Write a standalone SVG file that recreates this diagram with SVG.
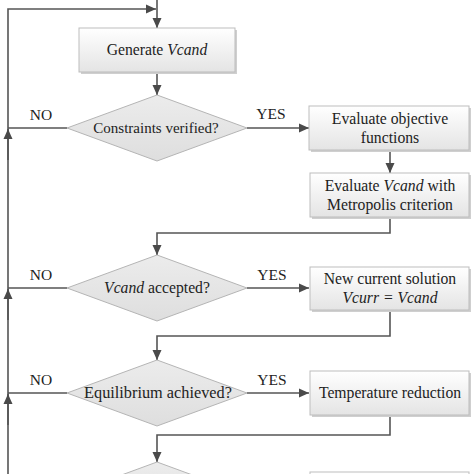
<svg xmlns="http://www.w3.org/2000/svg" width="474" height="474" viewBox="0 0 474 474">
<defs>
<linearGradient id="boxg" x1="0" y1="0" x2="0" y2="1"><stop offset="0" stop-color="#ffffff"/><stop offset="1" stop-color="#e4e4e4"/></linearGradient>
<linearGradient id="diag" x1="0" y1="0" x2="0" y2="1"><stop offset="0" stop-color="#ececec"/><stop offset="1" stop-color="#dedede"/></linearGradient>
<marker id="ah" viewBox="0 0 10 10" refX="10" refY="5" markerWidth="10" markerHeight="10" markerUnits="userSpaceOnUse" orient="auto"><path d="M0,0.5 L10,5 L0,9.5 z" fill="#4a4a4a"/></marker>
</defs>
<style>
.box{fill:url(#boxg);stroke:#bdbdbd;stroke-width:1}
.shd{fill:#cfcfcf}
.dia{fill:url(#diag);stroke:#b5b5b5;stroke-width:1}
.ln{fill:none;stroke:#555;stroke-width:1.6}
.t{fill:#222;text-anchor:middle}
.it{font-style:italic}
</style>
<rect width="474" height="474" fill="#ffffff"/>
<g id="connectors">
<path class="ln" d="M8,474 V9 H156" marker-end="url(#ah)"/>
<path class="ln" d="M157,0 V28" marker-end="url(#ah)"/>
<path class="ln" d="M157,72 V95" marker-end="url(#ah)"/>
<path class="ln" d="M67,128 H8"/>
<path class="ln" d="M8,160 V129" marker-end="url(#ah)"/>
<path class="ln" d="M247,128 H309" marker-end="url(#ah)"/>
<path class="ln" d="M390,150 V173" marker-end="url(#ah)"/>
<path class="ln" d="M390,217 V233 H157 V255" marker-end="url(#ah)"/>
<path class="ln" d="M67,288 H8"/>
<path class="ln" d="M8,320 V289" marker-end="url(#ah)"/>
<path class="ln" d="M247,288 H309" marker-end="url(#ah)"/>
<path class="ln" d="M390,310 V336 H157 V360" marker-end="url(#ah)"/>
<path class="ln" d="M67,393 H8"/>
<path class="ln" d="M8,425 V394" marker-end="url(#ah)"/>
<path class="ln" d="M247,393 H309" marker-end="url(#ah)"/>
<path class="ln" d="M390,415 V435 H157 V462" marker-end="url(#ah)"/>
<text class="t" font-family="Liberation Serif" font-size="15.5" x="41" y="120">NO</text>
<text class="t" font-family="Liberation Serif" font-size="15.5" x="271" y="119">YES</text>
<text class="t" font-family="Liberation Serif" font-size="15.5" x="41" y="280">NO</text>
<text class="t" font-family="Liberation Serif" font-size="15.5" x="272" y="280">YES</text>
<text class="t" font-family="Liberation Serif" font-size="15.5" x="41" y="385">NO</text>
<text class="t" font-family="Liberation Serif" font-size="15.5" x="272" y="385">YES</text>
</g>
<g id="generate">
<rect class="shd" x="81" y="30" width="156" height="44"/>
<rect class="box" x="79" y="28" width="156" height="44"/>
<text class="t" font-family="Liberation Serif" font-size="15.7" x="157" y="55">Generate <tspan class="it">Vcand</tspan></text>
</g>
<g id="constraints">
<polygon class="dia" points="157,95 247,128 157,161 67,128"/>
<text class="t" font-family="Liberation Serif" font-size="15" x="156" y="133">Constraints verified?</text>
</g>
<g id="evalobj">
<rect class="shd" x="311" y="108" width="160" height="44"/>
<rect class="box" x="309" y="106" width="160" height="44"/>
<text class="t" font-family="Liberation Serif" font-size="15.7" x="390" y="124">Evaluate objective</text>
<text class="t" font-family="Liberation Serif" font-size="15.7" x="390" y="143">functions</text>
</g>
<g id="evalmetro">
<rect class="shd" x="312" y="175" width="159" height="44"/>
<rect class="box" x="310" y="173" width="159" height="44"/>
<text class="t" font-family="Liberation Serif" font-size="15.7" x="390" y="191">Evaluate <tspan class="it">Vcand</tspan> with</text>
<text class="t" font-family="Liberation Serif" font-size="15.7" x="390" y="210">Metropolis criterion</text>
</g>
<g id="accepted">
<polygon class="dia" points="157,255 247,288 157,321 67,288"/>
<text class="t" font-family="Liberation Serif" font-size="15.7" x="157" y="293"><tspan class="it">Vcand</tspan> accepted?</text>
</g>
<g id="newsol">
<rect class="shd" x="312" y="269" width="159" height="43"/>
<rect class="box" x="310" y="267" width="159" height="43"/>
<text class="t" font-family="Liberation Serif" font-size="15.7" x="390" y="284">New current solution</text>
<text class="t it" font-family="Liberation Serif" font-size="15.7" x="390" y="303">Vcurr = Vcand</text>
</g>
<g id="equilibrium">
<polygon class="dia" points="157,360 247,393 157,426 67,393"/>
<text class="t" font-family="Liberation Serif" font-size="16.3" x="158" y="398">Equilibrium achieved?</text>
</g>
<g id="tempred">
<rect class="shd" x="312" y="373" width="159" height="44"/>
<rect class="box" x="310" y="371" width="159" height="44"/>
<text class="t" font-family="Liberation Serif" font-size="15.7" x="390" y="398">Temperature reduction</text>
</g>
<g id="nextdecision">
<polygon class="dia" points="157,462 247,495 157,528 67,495"/>
</g>
<g id="nextbox">
<rect class="box" x="310" y="472" width="159" height="44"/>
</g>
</svg>
